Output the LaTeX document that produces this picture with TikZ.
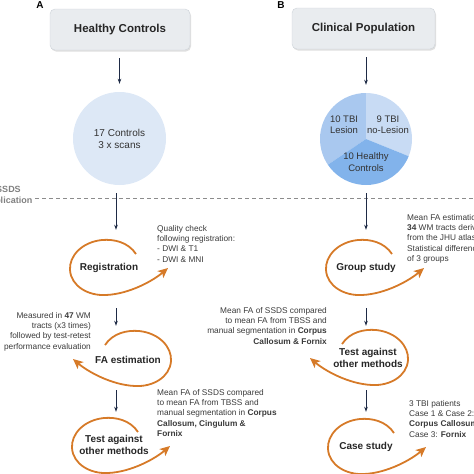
\documentclass[tikz,border=0pt]{standalone}
\usepackage{fontspec}
\setmainfont{Liberation Sans}
\usepackage{xcolor}
\usetikzlibrary{arrows.meta}
\usetikzlibrary{shadows}
\definecolor{boxgrey}{HTML}{E9ECEF}
\definecolor{boxline}{HTML}{CDD3D9}
\definecolor{ctrlblue}{HTML}{DDE8F6}
\definecolor{lesblue}{HTML}{A9C8EF}
\definecolor{nolesblue}{HTML}{C8DBF4}
\definecolor{hcblue}{HTML}{82B3EB}
\definecolor{curlorange}{RGB}{214,122,40}
\definecolor{flownavy}{HTML}{1E2A45}
\definecolor{notegrey}{HTML}{3A3A3A}

\begin{document}
\begin{tikzpicture}[x=1pt,y=-1pt]
\tikzstyle{title}=[rectangle, rounded corners=5pt, fill=boxgrey, draw=boxline, minimum width=140pt, minimum height=41pt, font=\fontsize{11.5}{13}\selectfont\bfseries, text=black!85, drop shadow={shadow xshift=1pt, shadow yshift=-1.5pt, opacity=0.25}]
\tikzstyle{flow}=[-{Stealth[length=5pt,width=3.5pt]}, draw=flownavy, line width=0.9pt, shorten >=8pt, shorten <=8pt]
\tikzstyle{curl}=[-{Stealth[length=10pt,width=9pt,inset=2.5pt]}, draw=curlorange, line width=1.8pt]
\tikzstyle{zone}=[inner sep=0pt, minimum width=1pt]
\tikzstyle{stepname}=[font=\fontsize{10}{12}\selectfont\bfseries, text=black!85, align=center, inner sep=0pt]
\tikzstyle{note}=[font=\fontsize{8.3}{10.3}\selectfont, text=notegrey, inner sep=0pt]
\tikzstyle{pietext}=[font=\fontsize{9.5}{11.5}\selectfont, text=black!80, align=center, inner sep=0pt]
\useasboundingbox (0,0) rectangle (474,474);

\node[font=\fontsize{10}{12}\selectfont\bfseries] (la) at (40,5) {A};
\node[font=\fontsize{10}{12}\selectfont\bfseries] (lb) at (281,5) {B};
\node[title] (hc) at (120,29.5) {Healthy Controls};
\node[title, minimum width=143pt] (cp) at (363.5,28.5) {Clinical Population};

\node[circle, fill=ctrlblue, minimum size=93pt, inner sep=0pt, align=center, font=\fontsize{10}{12}\selectfont, text=black!80] (ctrl) at (119.5,138.5) {17 Controls\\3 x scans};
\node[circle, minimum size=92pt, inner sep=0pt] (pie) at (366,139) {};
\fill[lesblue] (pie.center) -- ++(90:46pt) arc[start angle=90, end angle=214, radius=46pt] -- cycle;
\fill[nolesblue] (pie.center) -- ++(-22:46pt) arc[start angle=-22, end angle=90, radius=46pt] -- cycle;
\fill[hcblue] (pie.center) -- ++(214:46pt) arc[start angle=214, end angle=338, radius=46pt] -- cycle;
\node[pietext] (tles) at (344,124.5) {10 TBI\\Lesion};
\node[pietext] (tnol) at (388,124.5) {9 TBI\\no-Lesion};
\node[pietext] (thc) at (366,162) {10 Healthy\\Controls};

\node[font=\fontsize{9}{11}\selectfont\bfseries, text=black!50, align=center] (ssds) at (8.5,195.5) {SSDS\\application};
\coordinate (sepl) at (35,198);
\coordinate (sepr) at (474,198);
\draw[black!45, line width=0.8pt, dash pattern=on 4pt off 3pt] (sepl) -- (sepr);

\foreach \name/\x/\y/\h in {regz/116/269/62pt, faz/116/358/48pt, testaz/116/446/52pt, grpz/366/269/62pt, testbz/366/358/48pt, casez/366/446/52pt}
    \node[zone, minimum height=\h] (\name) at (\x,\y) {};

\draw[flow] (ctrl.north |- hc.south) -- (ctrl.north);
\draw[flow] (pie.north |- cp.south) -- (pie.north);
\draw[flow] (regz.north |- ctrl.south) -- (regz.north);
\draw[flow] (regz) -- (faz);
\draw[flow] (faz) -- (testaz);
\draw[flow] (grpz.north |- pie.south) -- (grpz.north);
\draw[flow] (grpz) -- (testbz);
\draw[flow] (testbz) -- (casez);

\node[stepname] (reg) at (109,268) {Registration};
\node[stepname] (fa) at (128,360) {FA estimation};
\node[stepname] (testa) at (114,445) {Test against\\other methods};
\node[stepname] (grp) at (366,268) {Group study};
\node[stepname] (testb) at (368,358) {Test against\\other methods};
\node[stepname] (case) at (366,447) {Case study};

\foreach \cx/\cy/\s in {110/268/1, 131/359/-1, 112/446/1, 366/268/1, 368/358/-1, 368/447/1}
    \draw[curl, shift={(\cx,\cy)}, xscale=\s] (26,-14) .. controls (18,-26) and (4,-29) .. (-8,-28) .. controls (-28,-26) and (-41,-12) .. (-40,2) .. controls (-39,18) and (-22,28) .. (-4,27) .. controls (20,26) and (44,12) .. (58,0);

\node[note, anchor=north west, align=left] (qc) at (157,225) {Quality check\\following registration:\\- DWI \& T1\\- DWI \& MNI};
\node[note, anchor=north east, align=right] (meas) at (91,312) {Measured in \textbf{47} WM\\tracts (x3 times)\\followed by test-retest\\performance evaluation};
\node[note, anchor=north west, align=left] (cmpa) at (157,389) {Mean FA of SSDS compared\\to mean FA from TBSS and\\manual segmentation in \textbf{Corpus}\\\textbf{Callosum, Cingulum \&}\\\textbf{Fornix}};
\node[note, anchor=north west, align=left] (grpnote) at (407,214) {Mean FA estimation in\\\textbf{34} WM tracts derived\\from the JHU atlas.\\Statistical differences\\of 3 groups};
\node[note, anchor=north east, align=right] (cmpb) at (327,307) {Mean FA of SSDS compared\\to mean FA from TBSS and\\manual segmentation in \textbf{Corpus}\\\textbf{Callosum \& Fornix}};
\node[note, anchor=north west, align=left] (casenote) at (409,400) {3 TBI patients\\Case 1 \& Case 2:\\\textbf{Corpus Callosum}\\Case 3: \textbf{Fornix}};
\end{tikzpicture}
\end{document}
